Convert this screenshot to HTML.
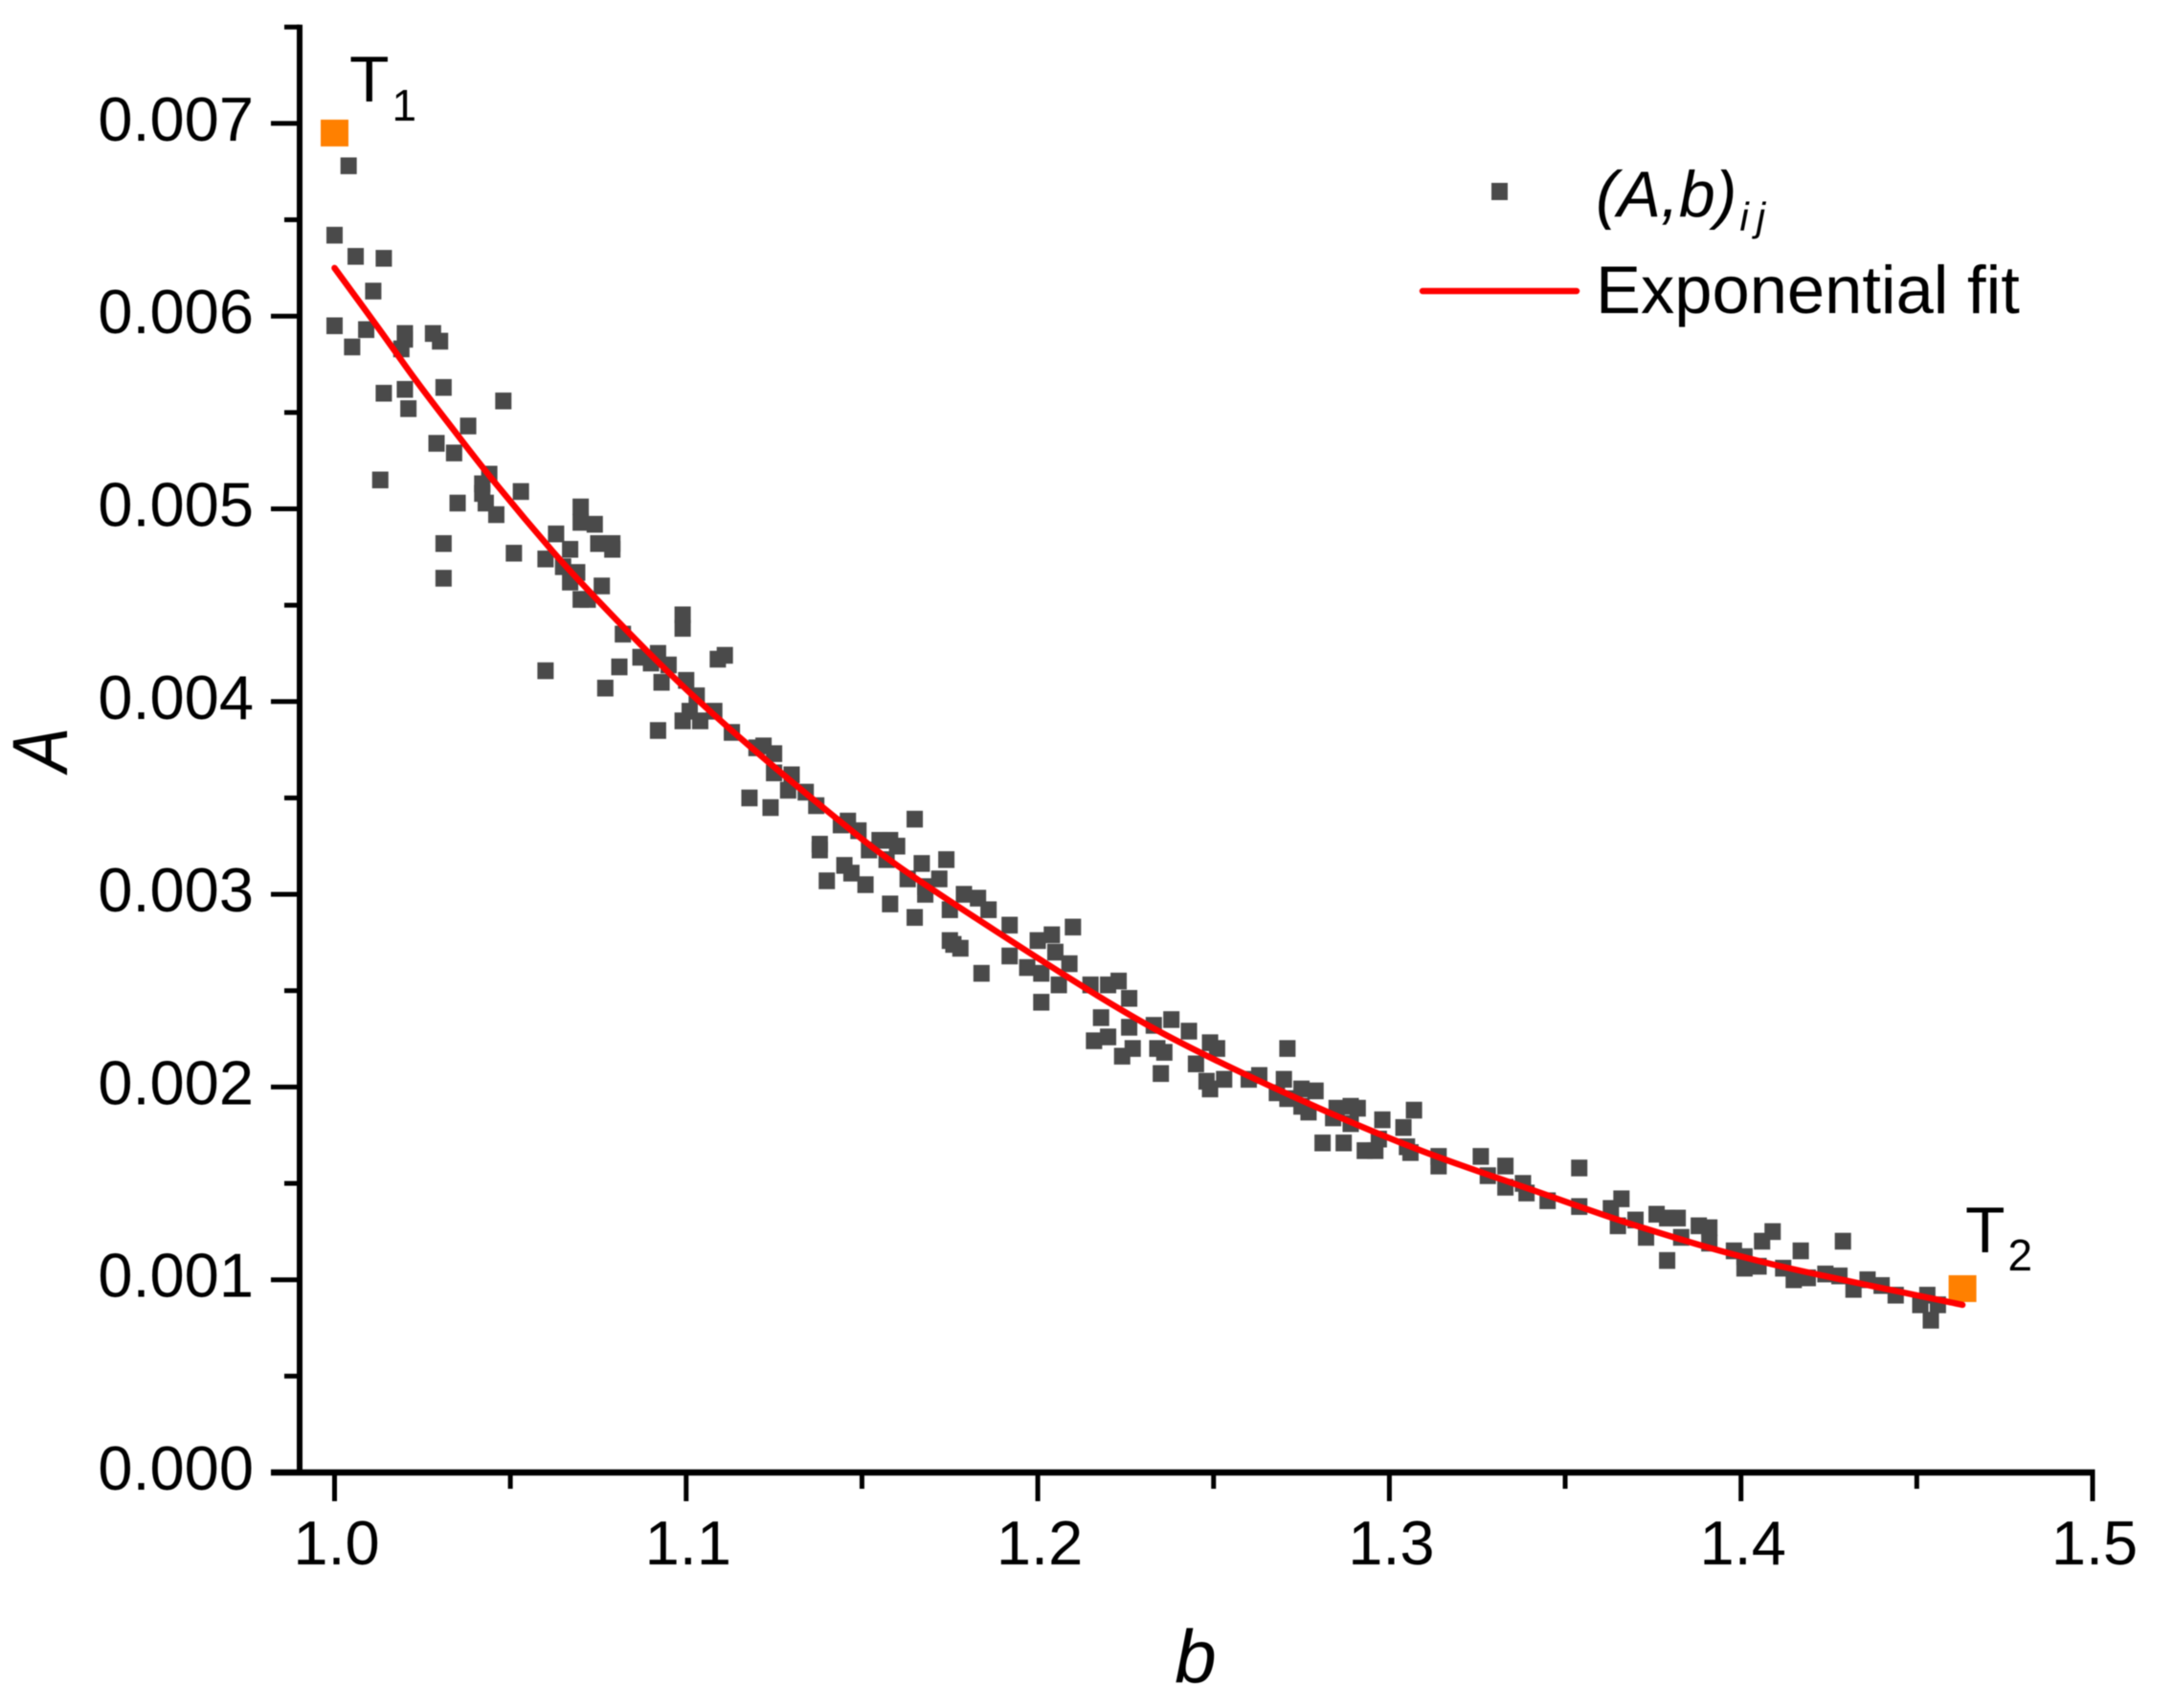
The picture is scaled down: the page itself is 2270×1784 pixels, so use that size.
<!DOCTYPE html>
<html lang="en">
<head>
<meta charset="utf-8">
<title>A versus b exponential fit</title>
<style>
  html, body { margin: 0; padding: 0; background: #fff; }
  svg { display: block; filter: blur(0.6px); }
  text { font-family: "Liberation Sans", sans-serif; fill: #000; }
</style>
</head>
<body>
<svg id="chart" xmlns="http://www.w3.org/2000/svg" width="2270" height="1784" viewBox="0 0 2270 1784">
  <rect x="0" y="0" width="2270" height="1784" fill="#fff"/>
  <g id="axes"></g>
  <g id="points"></g>
  <g id="endpoints"></g>
  <path id="fit" fill="none" stroke="#ff0000" stroke-width="6.5" stroke-linecap="round" stroke-linejoin="round"/>

  <text x="365" y="106" font-size="68">T<tspan font-size="46" dx="3" dy="20">1</tspan></text>
  <text x="2053" y="1308" font-size="68">T<tspan font-size="46" dx="3" dy="19">2</tspan></text>

  <text transform="translate(70,783) rotate(-90) scale(0.85,1)" text-anchor="middle" font-size="82" font-style="italic">A</text>
  <text x="1249" y="1757" text-anchor="middle" font-size="78" font-style="italic">b</text>

  <g>
    <rect x="1558" y="191" width="17" height="18" fill="#4a4a4a"/>
    <text x="1667" y="226" font-size="68" font-style="italic">(A,b)<tspan font-size="42" dx="3" dy="15" letter-spacing="8">ij</tspan></text>
    <line x1="1486" y1="304" x2="1647" y2="304" stroke="#ff0000" stroke-width="6.5" stroke-linecap="round"/>
    <text x="1667" y="327" font-size="70.5">Exponential fit</text>
  </g>
</svg>
<script>
// Axis tick values and labels
const xMajorTicks = [1.0, 1.1, 1.2, 1.3, 1.4, 1.5];
const xMajorLabels = ["1.0", "1.1", "1.2", "1.3", "1.4", "1.5"];
const xMinorTicks = [1.05, 1.15, 1.25, 1.35, 1.45];
const yMajorTicks = [0, 0.001, 0.002, 0.003, 0.004, 0.005, 0.006, 0.007];
const yMajorLabels = ["0.000", "0.001", "0.002", "0.003", "0.004", "0.005", "0.006", "0.007"];
const yMinorTicks = [0.0005, 0.0015, 0.0025, 0.0035, 0.0045, 0.0055, 0.0065, 0.0075];

// Scatter series (A,b)ij
const pointsB = [1.000,1.004,1.006,1.014,1.011,1.000,1.009,1.005,1.020,1.020,1.019,1.028,1.030,1.014,1.020,1.021,1.031,1.013,1.029,1.034,1.038,1.048,1.035,
1.044,1.042,1.042,1.043,1.046,1.053,1.031,1.031,1.051,1.070,1.070,1.074,1.063,1.067,1.075,1.079,1.079,1.060,1.065,1.069,1.067,1.076,1.070,1.072,1.060,1.082,1.099,1.099,
1.087,1.090,1.092,1.095,1.093,1.081,1.077,1.100,1.109,1.111,1.103,1.101,1.099,1.104,1.108,1.092,1.113,1.120,1.118,1.122,1.125,1.125,1.130,1.129,1.134,1.137,1.124,
1.146,1.144,1.149,1.165,1.155,1.152,1.158,1.160,1.157,1.138,1.138,1.145,1.147,1.151,1.140,1.158,1.165,1.167,1.174,1.172,1.163,1.168,1.168,1.179,1.183,1.175,1.186,
1.192,1.200,1.204,1.210,1.205,1.192,1.197,1.201,1.209,1.206,1.175,1.176,1.178,1.184,1.201,1.215,1.220,1.223,1.226,1.218,1.216,1.220,1.227,1.224,1.235,1.226,1.233,
1.238,1.243,1.234,1.236,1.245,1.249,1.251,1.248,1.249,1.253,1.260,1.263,1.271,1.268,1.270,1.271,1.275,1.275,1.279,1.277,1.285,1.284,1.289,1.291,1.289,1.281,1.287,
1.298,1.304,1.307,1.293,1.296,1.297,1.305,1.306,1.314,1.314,1.326,1.328,1.333,1.333,1.338,1.339,1.345,1.354,1.354,1.363,1.366,1.365,1.370,1.373,1.376,1.379,1.382,
1.383,1.379,1.388,1.391,1.391,1.398,1.401,1.401,1.405,1.406,1.409,1.417,1.412,1.415,1.419,1.424,1.428,1.429,1.432,1.436,1.440,1.444,1.453,1.451,1.456,1.454];
const pointsA = [0.00642,0.00678,0.00631,0.00630,0.00613,0.00595,0.00593,0.00584,0.00591,0.00588,0.00583,0.00591,0.00587,0.00560,0.00562,0.00552,0.00563,0.00515,0.00534,0.00529,0.00543,0.00556,0.00503,
0.00518,0.00513,0.00508,0.00503,0.00497,0.00509,0.00482,0.00464,0.00477,0.00501,0.00493,0.00492,0.00487,0.00479,0.00482,0.00482,0.00479,0.00474,0.00470,0.00467,0.00462,0.00460,0.00453,0.00453,0.00416,0.00435,0.00445,0.00438,
0.00423,0.00420,0.00425,0.00419,0.00410,0.00418,0.00407,0.00411,0.00422,0.00424,0.00403,0.00395,0.00390,0.00390,0.00395,0.00385,0.00384,0.00376,0.00350,0.00377,0.00373,0.00363,0.00362,0.00354,0.00353,0.00346,0.00345,
0.00338,0.00336,0.00333,0.00339,0.00328,0.00323,0.00328,0.00325,0.00318,0.00326,0.00323,0.00315,0.00311,0.00305,0.00307,0.00295,0.00288,0.00316,0.00318,0.00308,0.00308,0.00304,0.00300,0.00300,0.00298,0.00292,0.00292,
0.00284,0.00276,0.00279,0.00283,0.00270,0.00268,0.00262,0.00259,0.00264,0.00253,0.00276,0.00274,0.00272,0.00259,0.00244,0.00253,0.00253,0.00255,0.00246,0.00236,0.00224,0.00226,0.00220,0.00216,0.00207,0.00231,0.00232,
0.00235,0.00229,0.00220,0.00218,0.00212,0.00223,0.00220,0.00203,0.00199,0.00204,0.00204,0.00206,0.00220,0.00197,0.00204,0.00194,0.00199,0.00190,0.00198,0.00187,0.00189,0.00184,0.00190,0.00189,0.00181,0.00171,0.00171,
0.00183,0.00179,0.00188,0.00167,0.00167,0.00173,0.00169,0.00166,0.00164,0.00159,0.00164,0.00154,0.00159,0.00148,0.00150,0.00145,0.00141,0.00158,0.00138,0.00137,0.00142,0.00128,0.00131,0.00122,0.00134,0.00132,0.00132,
0.00122,0.00110,0.00128,0.00127,0.00119,0.00115,0.00112,0.00106,0.00107,0.00120,0.00125,0.00115,0.00106,0.00100,0.00101,0.00103,0.00102,0.00120,0.00095,0.00100,0.00097,0.00092,0.00092,0.00087,0.00087,0.00079];

// Highlighted endpoints T1 and T2
const endpointNames = ["t1-marker", "t2-marker"];
const endpointB = [1.000, 1.463];
const endpointA = [0.00695, 0.000954];

// Fitted curve
const fitB = [1.000,1.012,1.023,1.033,1.045,1.062,1.072,1.089,1.102,1.118,1.141,1.160,1.188,1.221,1.245,1.280,1.309,1.340,1.372,1.409,1.463];
const fitA = [0.00625,0.00595,0.00567,0.00543,0.00515,0.00478,0.00458,0.00426,0.00403,0.00377,0.00342,0.00315,0.00281,0.00243,0.00219,0.00189,0.00167,0.00147,0.00127,0.00108,0.00087];

const svgNS = "http://www.w3.org/2000/svg";
function xScale(b) { return 349.5 + (b - 1) * 3673; }
function yScale(a) { return 1538 - a * 201300; }

function makeLine(parent, x1, y1, x2, y2, width) {
  const el = document.createElementNS(svgNS, "line");
  el.setAttribute("x1", x1);
  el.setAttribute("y1", y1);
  el.setAttribute("x2", x2);
  el.setAttribute("y2", y2);
  el.setAttribute("stroke", "#000");
  el.setAttribute("stroke-width", width);
  parent.appendChild(el);
  return el;
}
function makeText(parent, x, y, anchor, content) {
  const el = document.createElementNS(svgNS, "text");
  el.setAttribute("x", x);
  el.setAttribute("y", y);
  el.setAttribute("text-anchor", anchor);
  el.setAttribute("font-size", "65");
  el.textContent = content;
  parent.appendChild(el);
  return el;
}
function makeSquare(parent, cx, cy, w, h, fill) {
  const el = document.createElementNS(svgNS, "rect");
  el.setAttribute("x", cx - w / 2);
  el.setAttribute("y", cy - h / 2);
  el.setAttribute("width", w);
  el.setAttribute("height", h);
  el.setAttribute("fill", fill);
  parent.appendChild(el);
  return el;
}

const axes = document.getElementById("axes");
const axisX = makeLine(axes, 283, yScale(0), xScale(1.5) + 2.5, yScale(0), 6.5);


const axisY = makeLine(axes, 313, yScale(0.0075) - 2.5, 313, yScale(0), 6);



xMajorTicks.forEach(function (v, i) {
  const tick = makeLine(axes, xScale(v), yScale(0), xScale(v), yScale(0) + 30, 5);
  
  
  const label = makeText(axes, xScale(v) + 2, 1634, "middle", xMajorLabels[i]);
  
  
});
xMinorTicks.forEach(function (v) {
  const tick = makeLine(axes, xScale(v), yScale(0), xScale(v), yScale(0) + 17, 5);
  
  
});
yMajorTicks.forEach(function (v, i) {
  const tick = makeLine(axes, 283, yScale(v), 313, yScale(v), 5);
  
  
  const label = makeText(axes, 265, yScale(v) + 18, "end", yMajorLabels[i]);
  
  
});
yMinorTicks.forEach(function (v) {
  const tick = makeLine(axes, 297, yScale(v), 313, yScale(v), 5);
  
  
});

const pointsGroup = document.getElementById("points");
pointsB.forEach(function (b, i) {
  const p = makeSquare(pointsGroup, xScale(b), yScale(pointsA[i]), 17, 17.5, "#4a4a4a");
  
  
});

const endpointsGroup = document.getElementById("endpoints");
endpointB.forEach(function (b, i) {
  const m = makeSquare(endpointsGroup, xScale(b), yScale(endpointA[i]), 29, 28, "#ff8000");
  
  
});

// Smooth the fit through its read points with a Catmull-Rom spline
const fitX = fitB.map(xScale);
const fitY = fitA.map(yScale);
let fitPath = "M" + fitX[0].toFixed(1) + " " + fitY[0].toFixed(1);
for (let i = 0; i < fitX.length - 1; i++) {
  const p = Math.max(i - 1, 0);
  const n = Math.min(i + 2, fitX.length - 1);
  const c1x = fitX[i] + (fitX[i + 1] - fitX[p]) / 6;
  const c1y = fitY[i] + (fitY[i + 1] - fitY[p]) / 6;
  const c2x = fitX[i + 1] - (fitX[n] - fitX[i]) / 6;
  const c2y = fitY[i + 1] - (fitY[n] - fitY[i]) / 6;
  fitPath += " C" + c1x.toFixed(1) + " " + c1y.toFixed(1) + " " + c2x.toFixed(1) + " " + c2y.toFixed(1) + " " + fitX[i + 1].toFixed(1) + " " + fitY[i + 1].toFixed(1);
}
document.getElementById("fit").setAttribute("d", fitPath);
</script>
</body>
</html>
